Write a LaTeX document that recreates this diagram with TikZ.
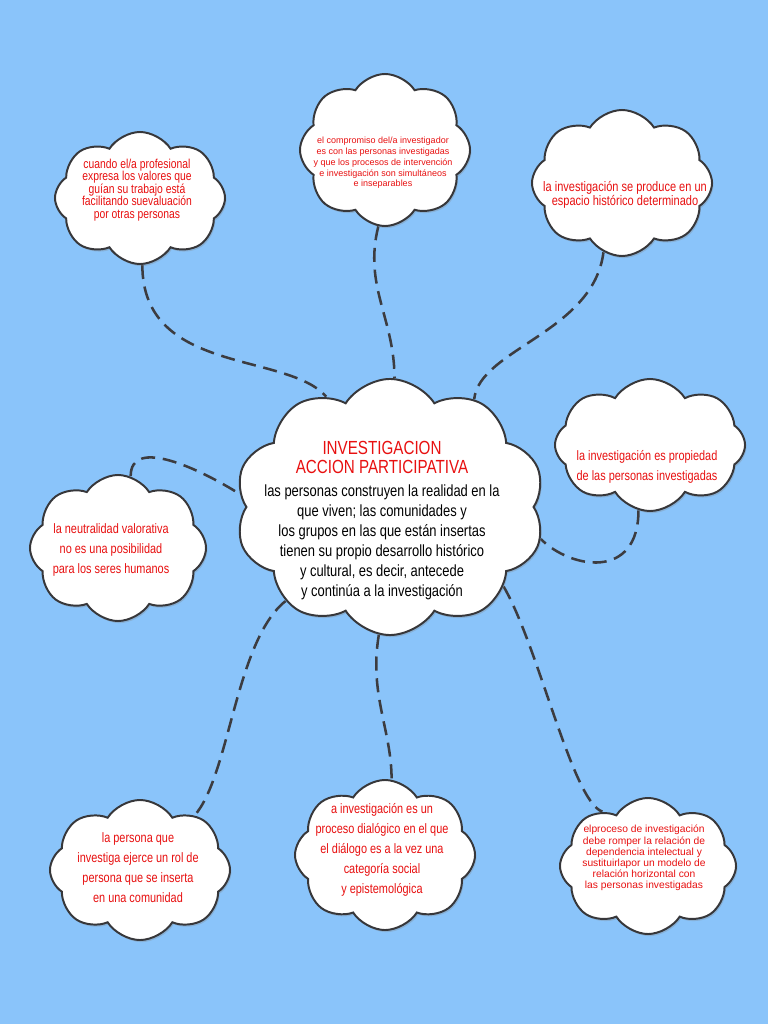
\documentclass[tikz,border=0pt]{standalone}
\usepackage{fontspec}
\setmainfont{Liberation Sans}
\newfontfamily\narrowsans[FakeStretch=0.8]{Liberation Sans}
\definecolor{skyblue}{RGB}{138,196,250}
\definecolor{cloudline}{RGB}{55,55,58}
\definecolor{dashgray}{RGB}{60,60,64}
\definecolor{ideared}{RGB}{232,16,16}
\usetikzlibrary{positioning, shapes.symbols, shadows, backgrounds}

\begin{document}
\begin{tikzpicture}[
        x=0.025cm, y=-0.025cm,
        puff/.style={cloud, cloud puffs=8, cloud puff arc=115, cloud ignores aspect, draw=cloudline, fill=white, line width=1.4pt, inner sep=0pt, drop shadow={shadow xshift=1pt, shadow yshift=-1.5pt, opacity=0.3}},
        idea/.style={align=center, text=ideared, font=\narrowsans\fontsize{9.7}{14.2}\selectfont},
        tiny/.style={align=center, text=ideared, font=\fontsize{6.4}{7.6}\selectfont},
        link/.style={draw=dashgray, line width=1.8pt, dash pattern=on 10pt off 5.5pt}
    ]
        \begin{scope}[on background layer]
            \fill[skyblue] (0,0) rectangle (768,1024);
        \end{scope}
        \useasboundingbox (0,0) rectangle (768,1024);

        % Central cloud
        \node[puff, cloud puffs=10, minimum width=7.75cm, minimum height=6.4cm] (main) at (390,507) {};
        \node[text=ideared, align=center, font=\narrowsans\fontsize{13.5}{13.5}\selectfont] (mainhead) at (382,457) {INVESTIGACION\\ACCION PARTICIPATIVA};
        \node[align=center, font=\narrowsans\fontsize{11.5}{14.2}\selectfont, below=1pt of mainhead] (maintext) {las personas construyen la realidad en la\\que viven; las comunidades y\\los grupos en las que están insertas\\tienen su propio desarrollo histórico\\y cultural, es decir, antecede\\y continúa a la investigación};

        % Upper clouds
        \node[puff, minimum width=4.25cm, minimum height=3.3cm] (tl) at (140,198) {};
        \node[idea, font=\narrowsans\fontsize{9.2}{8.9}\selectfont] (tltext) at (137,190) {cuando el/a profesional\\expresa los valores que\\guían su trabajo está\\facilitando suevaluación\\por otras personas};

        \node[puff, minimum width=4.25cm, minimum height=3.8cm] (tc) at (385,150) {};
        \node[tiny] (tctext) at (383,163) {el compromiso del/a investigador\\es con las personas investigadas\\y que los procesos de intervención\\e investigación son simultáneos\\e inseparables};

        \node[puff, minimum width=4.5cm, minimum height=3.65cm] (tr) at (622,183) {};
        \node[idea, font=\narrowsans\fontsize{9.8}{8.8}\selectfont] (trtext) at (625,195) {la investigación se produce en un\\espacio histórico determinado};

        % Side clouds
        \node[puff, minimum width=4.75cm, minimum height=3.3cm] (rm) at (650,445) {};
        \node[idea] (rmtext) at (647,467) {la investigación es propiedad\\de las personas investigadas};

        \node[puff, minimum width=4.4cm, minimum height=3.65cm] (lm) at (118,548) {};
        \node[idea] (lmtext) at (111,550) {la neutralidad valorativa\\no es una posibilidad\\para los seres humanos};

        % Lower clouds
        \node[puff, minimum width=4.5cm, minimum height=3.5cm] (bl) at (140,870) {};
        \node[idea] (bltext) at (138,868) {la persona que\\investiga ejerce un rol de\\persona que se inserta\\en una comunidad};

        \node[puff, minimum width=4.5cm, minimum height=3.75cm] (bc) at (385,855) {};
        \node[idea] (bctext) at (382,850) {a investigación es un\\proceso dialógico en el que\\el diálogo es a la vez una\\categoría social\\y epistemológica};

        \node[puff, minimum width=4.4cm, minimum height=3.4cm] (br) at (648,866) {};
        \node[tiny, font=\fontsize{7.3}{7.9}\selectfont] (brtext) at (644,858) {elproceso de investigación\\debe romper la relación de\\dependencia intelectual y\\sustituirlapor un modelo de\\relación horizontal con\\las personas investigadas};

        % Dashed links
        \begin{scope}[on background layer]
            \draw[link] (tl.-88) .. controls +(0,110) and +(-40,-45) .. (main.120);
            \draw[link] (tc.-95) .. controls +(-15,60) and +(0,-60) .. (main.88);
            \draw[link] (tr.-105) .. controls +(-10,80) and +(5,-50) .. (main.52);
            \draw[link] (rm.-100) .. controls +(0,70) and +(30,30) .. (main.-12);
            \draw[link] (lm.80) .. controls +(0,-40) and +(-40,-25) .. (main.175);
            \draw[link] (main.-138) .. controls +(-50,40) and +(35,-40) .. (bl.45);
            \draw[link] (main.-95) .. controls +(-10,60) and +(0,-50) .. (bc.85);
            \draw[link] (main.-35) .. controls +(35,60) and +(-30,-10) .. (br.130);
        \end{scope}
    \end{tikzpicture}
\end{document}
